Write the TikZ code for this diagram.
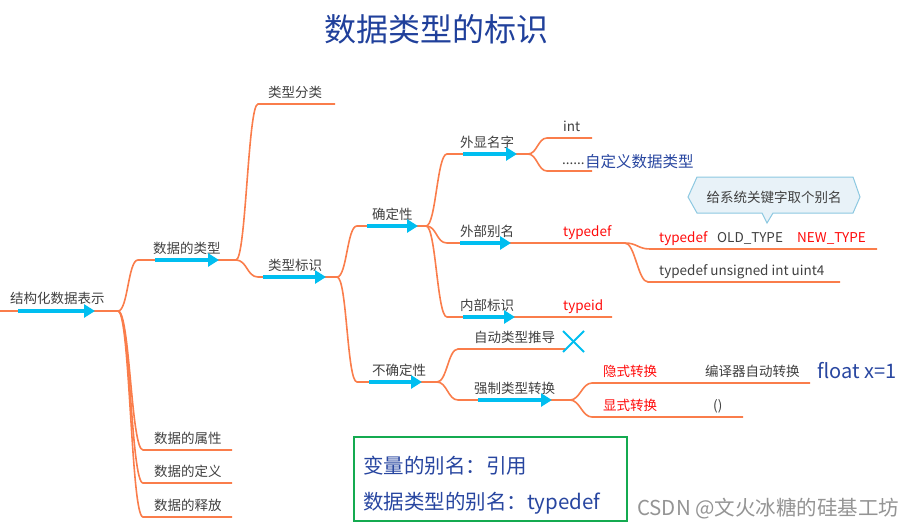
\documentclass[tikz,border=0pt]{standalone}
\usepackage{fontspec}
\setmainfont{Noto Sans CJK SC}
\usetikzlibrary{arrows.meta}
\definecolor{lineor}{RGB}{250,125,75}
\definecolor{cyanc}{RGB}{0,190,240}
\definecolor{txt}{RGB}{64,64,64}
\definecolor{redc}{RGB}{255,10,10}
\definecolor{bluet}{RGB}{40,70,160}
\definecolor{titlec}{RGB}{32,64,155}
\definecolor{boxg}{RGB}{20,170,80}
\definecolor{callf}{RGB}{232,242,248}
\definecolor{calld}{RGB}{140,200,225}
\begin{document}
\begin{tikzpicture}[x=1pt,y=-1pt,
  br/.style={draw=lineor, line width=1.6pt},
  mm/.style={to path={.. controls +(#1,0) and +(-#1,0) .. (\tikztotarget)}},
  mm/.default=10,
  lbl/.style={anchor=base west, inner sep=0, text=txt, font=\fontsize{13.5}{16}\selectfont},
  redlbl/.style={lbl, text=redc},
  arr/.style={draw=cyanc, line width=4.5pt, -{Triangle[length=11pt,width=13pt]}},
  xmark/.style={draw=cyanc, line width=1.8pt}
]
\useasboundingbox (0,0) rectangle (917,528);

% title
\node[text=titlec, font=\fontsize{32}{36}\selectfont, inner sep=0] (title) at (436,29) {数据类型的标识};

% root
\coordinate (R0) at (0,311);
\coordinate (R) at (118,311);
\node[lbl] (root) at (10,303) {结构化数据表示};
\draw[br] (R0) -- (R);

% level 1
\coordinate (T1s) at (138,260); \coordinate (T1) at (236,260);
\node[lbl] (t1) at (153,253) {数据的类型};
\draw[br] (R) to[mm=10] (T1s) -- (T1);

\coordinate (A1s) at (143,450); \coordinate (A1) at (232,450);
\node[lbl] (a1) at (154,443) {数据的属性};
\draw[br] (R) to[mm=12] (A1s) -- (A1);
\coordinate (A2s) at (143,483); \coordinate (A2) at (232,483);
\node[lbl] (a2) at (154,476) {数据的定义};
\draw[br] (R) to[mm=12] (A2s) -- (A2);
\coordinate (A3s) at (143,517); \coordinate (A3) at (232,517);
\node[lbl] (a3) at (154,510) {数据的释放};
\draw[br] (R) to[mm=12] (A3s) -- (A3);

% level 2
\coordinate (L1s) at (258,104); \coordinate (L1) at (335,104);
\node[lbl] (l1) at (268,97) {类型分类};
\draw[br] (T1) to[mm=10] (L1s) -- (L1);
\coordinate (L2s) at (258,277); \coordinate (L2) at (337,277);
\node[lbl] (l2) at (268,270) {类型标识};
\draw[br] (T1) to[mm=11] (L2s) -- (L2);

% level 3
\coordinate (Q1s) at (357,226); \coordinate (Q1) at (426,226);
\node[lbl] (q1) at (372,219) {确定性};
\draw[br] (L2) to[mm=10] (Q1s) -- (Q1);
\coordinate (Q2s) at (357,382); \coordinate (Q2) at (437,382);
\node[lbl] (q2) at (372,375) {不确定性};
\draw[br] (L2) to[mm=10] (Q2s) -- (Q2);

% level 4 (确定性)
\coordinate (W1s) at (447,154); \coordinate (W1) at (528,154);
\node[lbl] (w1) at (460,147) {外显名字};
\draw[br] (Q1) to[mm=10] (W1s) -- (W1);
\coordinate (W2s) at (447,243); \coordinate (W2) at (625,243);
\node[lbl] (w2) at (460,236) {外部别名};
\node[redlbl] (w2r) at (563,236) {typedef};
\draw[br] (Q1) to[mm=11] (W2s) -- (W2);
\coordinate (W3s) at (447,317); \coordinate (W3) at (612,317);
\node[lbl] (w3) at (460,310) {内部标识};
\node[redlbl] (w3r) at (563,310) {typeid};
\draw[br] (Q1) to[mm=10] (W3s) -- (W3);

% 外显名字 children
\coordinate (N1s) at (547,138); \coordinate (N1) at (592,138);
\node[lbl] (n1) at (563,131) {int};
\draw[br] (W1) to[mm=9] (N1s) -- (N1);
\coordinate (N2s) at (547,171); \coordinate (N2) at (592,171);
\node[lbl] (n2) at (562,164) {......};
\draw[br] (W1) to[mm=9] (N2s) -- (N2);
\node[anchor=base west, inner sep=0, text=bluet, font=\fontsize{15.5}{18}\selectfont] (n2b) at (585,167) {自定义数据类型};

% typedef children
\coordinate (D1s) at (650,249); \coordinate (D1) at (877,249);
\node[redlbl] (d1a) at (659,242) {typedef};
\node[lbl] (d1b) at (717,242) {OLD\_TYPE};
\node[redlbl] (d1c) at (797,242) {NEW\_TYPE};
\draw[br] (W2) to[mm=12] (D1s) -- (D1);
\coordinate (D2s) at (648,282); \coordinate (D2) at (840,282);
\node[lbl] (d2) at (659,275) {typedef unsigned int uint4};
\draw[br] (W2) to[mm=10] (D2s) -- (D2);

% callout
\coordinate (cc) at (774,197);
\draw[draw=calld, fill=callf, line width=1pt]
  ([xshift=-86pt]cc) -- ([xshift=-77pt,yshift=20pt]cc)
  -- ([xshift=79pt,yshift=20pt]cc) -- ([xshift=86pt]cc)
  -- ([xshift=79pt,yshift=-16pt]cc) -- ([xshift=-1pt,yshift=-16pt]cc)
  -- ([xshift=-7pt,yshift=-26pt]cc) -- ([xshift=-12pt,yshift=-16pt]cc)
  -- ([xshift=-77pt,yshift=-16pt]cc) -- cycle;
\node[inner sep=0, text=txt, font=\fontsize{13.5}{16}\selectfont] (call) at (cc) {给系统关键字取个别名};

% 不确定性 children
\coordinate (U1s) at (458,349); \coordinate (U1) at (565,349);
\node[lbl] (u1) at (474,342) {自动类型推导};
\draw[br] (Q2) to[mm=10] (U1s) -- (U1);
\coordinate (X1) at (563,331); \coordinate (X2) at (584,352);
\coordinate (X3) at (563,352); \coordinate (X4) at (584,331);
\draw[xmark] (X1) -- (X2); \draw[xmark] (X3) -- (X4);
\coordinate (U2s) at (458,400); \coordinate (U2) at (570,400);
\node[lbl] (u2) at (474,393) {强制类型转换};
\draw[br] (Q2) to[mm=10] (U2s) -- (U2);

% 强制类型转换 children
\coordinate (C1s) at (592,383); \coordinate (C1) at (810,383);
\node[redlbl] (c1) at (603,376) {隐式转换};
\node[lbl] (c1b) at (705,376) {编译器自动转换};
\node[anchor=base west, inner sep=0, text=bluet, font=\fontsize{20}{24}\selectfont] (c1c) at (817,378) {float x=1};
\draw[br] (U2) to[mm=10] (C1s) -- (C1);
\coordinate (C2s) at (592,417); \coordinate (C2) at (743,417);
\node[redlbl] (c2) at (603,410) {显式转换};
\node[lbl] (c2b) at (713,410) {()};
\draw[br] (U2) to[mm=10] (C2s) -- (C2);

% arrows
\draw[arr] (18,311) -- (95,311);
\draw[arr] (155,260) -- (219,260);
\draw[arr] (263,277) -- (326,277);
\draw[arr] (367,226) -- (418,226);
\draw[arr] (369,382) -- (422,382);
\draw[arr] (463,154) -- (517,154);
\draw[arr] (460,243) -- (511,243);
\draw[arr] (463,317) -- (515,317);
\draw[arr] (478,400) -- (552,400);

% green box
\draw[draw=boxg, line width=1.2pt] (354,437) rectangle (627,521);
\node[anchor=base west, inner sep=0, text=bluet, font=\fontsize{20.5}{24}\selectfont] (g1) at (363,473) {变量的别名：引用};
\node[anchor=base west, inner sep=0, text=bluet, font=\fontsize{20.5}{24}\selectfont] (g2) at (363,509) {数据类型的别名：typedef};

% watermark
\node[anchor=base west, inner sep=0, text=black!42, font=\fontsize{20.5}{24}\selectfont] (wm) at (637,515) {CSDN @文火冰糖的硅基工坊};
\end{tikzpicture}
\end{document}
